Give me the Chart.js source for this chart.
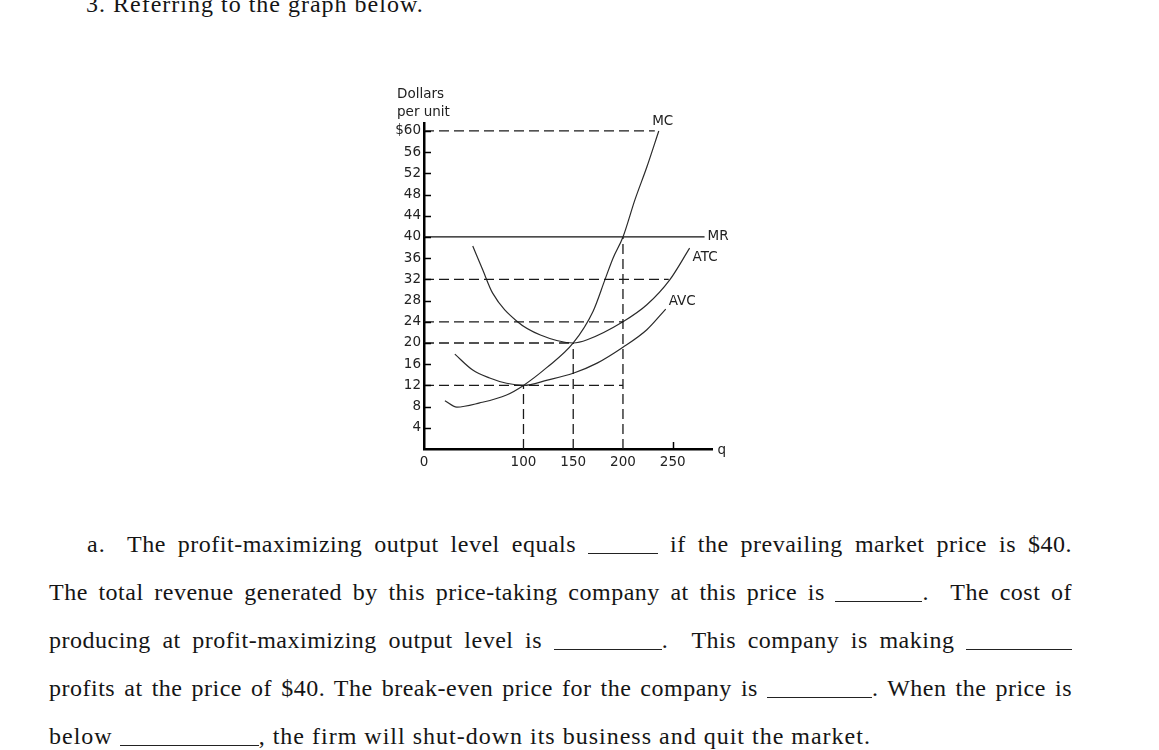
<!DOCTYPE html>
<html>
<head>
<meta charset="utf-8">
<script src="https://cdn.jsdelivr.net/npm/chart.js@4.4.1/dist/chart.umd.min.js"></script>
<style>
  html, body { margin: 0; padding: 0; background: #fff; }
  body { width: 1159px; height: 750px; position: relative; overflow: hidden; }
  #costChart { position: absolute; left: 340px; top: 80px; }
  .txt {
    position: absolute;
    font-family: 'Liberation Serif', 'DejaVu Serif', serif;
    font-size: 24px;
    line-height: 24px;
    letter-spacing: 1px;
    color: #151515;
    white-space: nowrap;
  }
  .just { text-align: justify; text-align-last: justify; letter-spacing: 0.5px; white-space: normal; }
  .b {
    display: inline-block;
    height: 0;
    border-bottom: 1.2px solid #222;
    vertical-align: -2px;
  }
</style>
</head>
<body>
<div class="txt" style="left:86px; top:-8px;">3. Referring to the graph below.</div>

<canvas id="costChart" width="420" height="400"></canvas>

<div class="txt" style="left:87px; top:532px;">a.</div>
<div class="txt just" style="left:127px; top:532px; width:945px;">The profit-maximizing output level equals <span class="b" style="width:70px"></span> if the prevailing market price is $40.</div>
<div class="txt just" style="left:49px; top:580px; width:1023px;">The total revenue generated by this price-taking company at this price is <span class="b" style="width:87px"></span>. &nbsp;The cost of</div>
<div class="txt just" style="left:49px; top:628px; width:1023px;">producing at profit-maximizing output level is <span class="b" style="width:108px"></span>. &nbsp;This company is making <span class="b" style="width:106px"></span></div>
<div class="txt just" style="left:49px; top:676px; width:1023px;">profits at the price of $40. The break-even price for the company is <span class="b" style="width:105px"></span>. When the price is</div>
<div class="txt" style="left:49px; top:724px;">below <span class="b" style="width:139px"></span>, the firm will shut-down its business and quit the market.</div>

<script>
// axis ticks
const qTicks = [0, 100, 150, 200, 250];
const priceTicks = [4, 8, 12, 16, 20, 24, 28, 32, 36, 40, 44, 48, 52, 56, 60];

// cost curves (q, dollars per unit)
const mcQ = [21, 33, 56, 83, 100, 123, 150, 170, 182, 190, 200, 212, 224, 236];
const mcP = [9.1, 7.9, 8.7, 10.2, 12, 15.3, 20, 26, 32, 36, 40, 47, 53.2, 60];
const atcQ = [49, 59, 69, 94, 117, 150, 164, 200, 224, 247, 267];
const atcP = [38.3, 33.8, 29.4, 24, 21.5, 20, 20.6, 24, 27.2, 31.9, 37.9];
const avcQ = [31, 49, 66, 83, 100, 124, 150, 174, 200, 224, 243];
const avcP = [17.9, 14.9, 13.4, 12.4, 12, 13, 14.3, 16.2, 19.2, 22.5, 26.4];
const mrQ = [0, 282];
const mrP = [40, 40];

// dashed guide lines
const hGuidePrice = [60, 32, 24, 20, 12];
const hGuideEnd = [232, 246, 200, 150, 200];
const vGuideQ = [100, 150, 200];
const vGuideTop = [12, 20, 40];

// curve names and where they sit (data units)
const curveNames = ['MC', 'MR', 'ATC', 'AVC', 'q'];
const nameQ = [240, 285, 270, 246, 295];
const nameP = [61.8, 40, 36.2, 27.8, -0.2];

const zip = (xs, ys) => xs.map((x, i) => ({ x: x, y: ys[i] }));
const axisFont = { family: "'DejaVu Sans', sans-serif", size: 13.5 };
const inkColor = '#222';

const curve = (pts) => ({
  data: pts,
  borderColor: '#2b2b2b',
  borderWidth: 1.2,
  pointRadius: 0,
  cubicInterpolationMode: 'monotone',
  fill: false
});
const guide = (pts) => ({
  data: pts,
  borderColor: '#1a1a1a',
  borderWidth: 1.3,
  borderDash: [10, 5],
  pointRadius: 0,
  tension: 0,
  fill: false
});

const datasets = [];
hGuidePrice.forEach((p, i) => datasets.push(guide([{ x: 0, y: p }, { x: hGuideEnd[i], y: p }])));
vGuideQ.forEach((q, i) => datasets.push(guide([{ x: q, y: 0 }, { x: q, y: vGuideTop[i] }])));
datasets.push(curve(zip(mcQ, mcP)));
datasets.push(curve(zip(atcQ, atcP)));
datasets.push(curve(zip(avcQ, avcP)));
datasets.push(Object.assign(curve(zip(mrQ, mrP)), { borderColor: '#111', borderWidth: 1.2 }));

const extras = {
  id: 'extras',
  afterDraw(chart) {
    const { ctx, chartArea, scales: { x, y } } = chart;
    ctx.save();
    ctx.strokeStyle = '#000';
    ctx.lineWidth = 1.5;
    // tick marks point into the plot
    priceTicks.forEach(p => {
      const py = Math.round(y.getPixelForValue(p)) + 0.5;
      ctx.beginPath();
      ctx.moveTo(chartArea.left, py);
      ctx.lineTo(chartArea.left + 7, py);
      ctx.stroke();
    });
    const px = Math.round(x.getPixelForValue(250)) + 0.5;
    ctx.beginPath();
    ctx.moveTo(px, chartArea.bottom);
    ctx.lineTo(px, chartArea.bottom - 7);
    ctx.stroke();

    ctx.fillStyle = inkColor;
    ctx.font = "13.5px 'DejaVu Sans', sans-serif";
    ctx.textBaseline = 'middle';
    curveNames.forEach((name, i) => {
      ctx.textAlign = name === 'MC' ? 'center' : 'left';
      ctx.fillText(name, x.getPixelForValue(nameQ[i]), y.getPixelForValue(nameP[i]));
    });

    // axis caption above the price axis
    ctx.textAlign = 'left';
    ctx.fillText('Dollars', chartArea.left - 27, chartArea.top - 29);
    ctx.fillText('per unit', chartArea.left - 27, chartArea.top - 11);
    ctx.restore();
  }
};

new Chart(document.getElementById('costChart'), {
  type: 'line',
  data: { datasets: datasets },
  options: {
    responsive: false,
    animation: false,
    layout: { padding: { left: 44, right: 47.5, top: 43, bottom: 0 } },
    plugins: { legend: { display: false }, tooltip: { enabled: false } },
    scales: {
      x: {
        type: 'linear',
        min: 0,
        max: 290,
        afterBuildTicks: s => { s.ticks = qTicks.map(v => ({ value: v })); },
        afterFit: s => { s.height = 31; },
        grid: { display: true, drawOnChartArea: false, drawTicks: false },
        border: { color: '#000', width: 2.5 },
        ticks: { padding: 5, font: axisFont, color: inkColor, autoSkip: false, maxRotation: 0 }
      },
      y: {
        min: 0,
        max: 61.5,
        afterBuildTicks: s => { s.ticks = priceTicks.map(v => ({ value: v })); },
        afterFit: s => { s.width = 40; },
        grid: { display: true, drawOnChartArea: false, drawTicks: false },
        border: { color: '#000', width: 2.5 },
        ticks: {
          padding: 3,
          font: axisFont,
          color: inkColor,
          autoSkip: false,
          callback: v => (v === 60 ? '$60' : String(v))
        }
      }
    }
  },
  plugins: [extras]
});
</script>
</body>
</html>
